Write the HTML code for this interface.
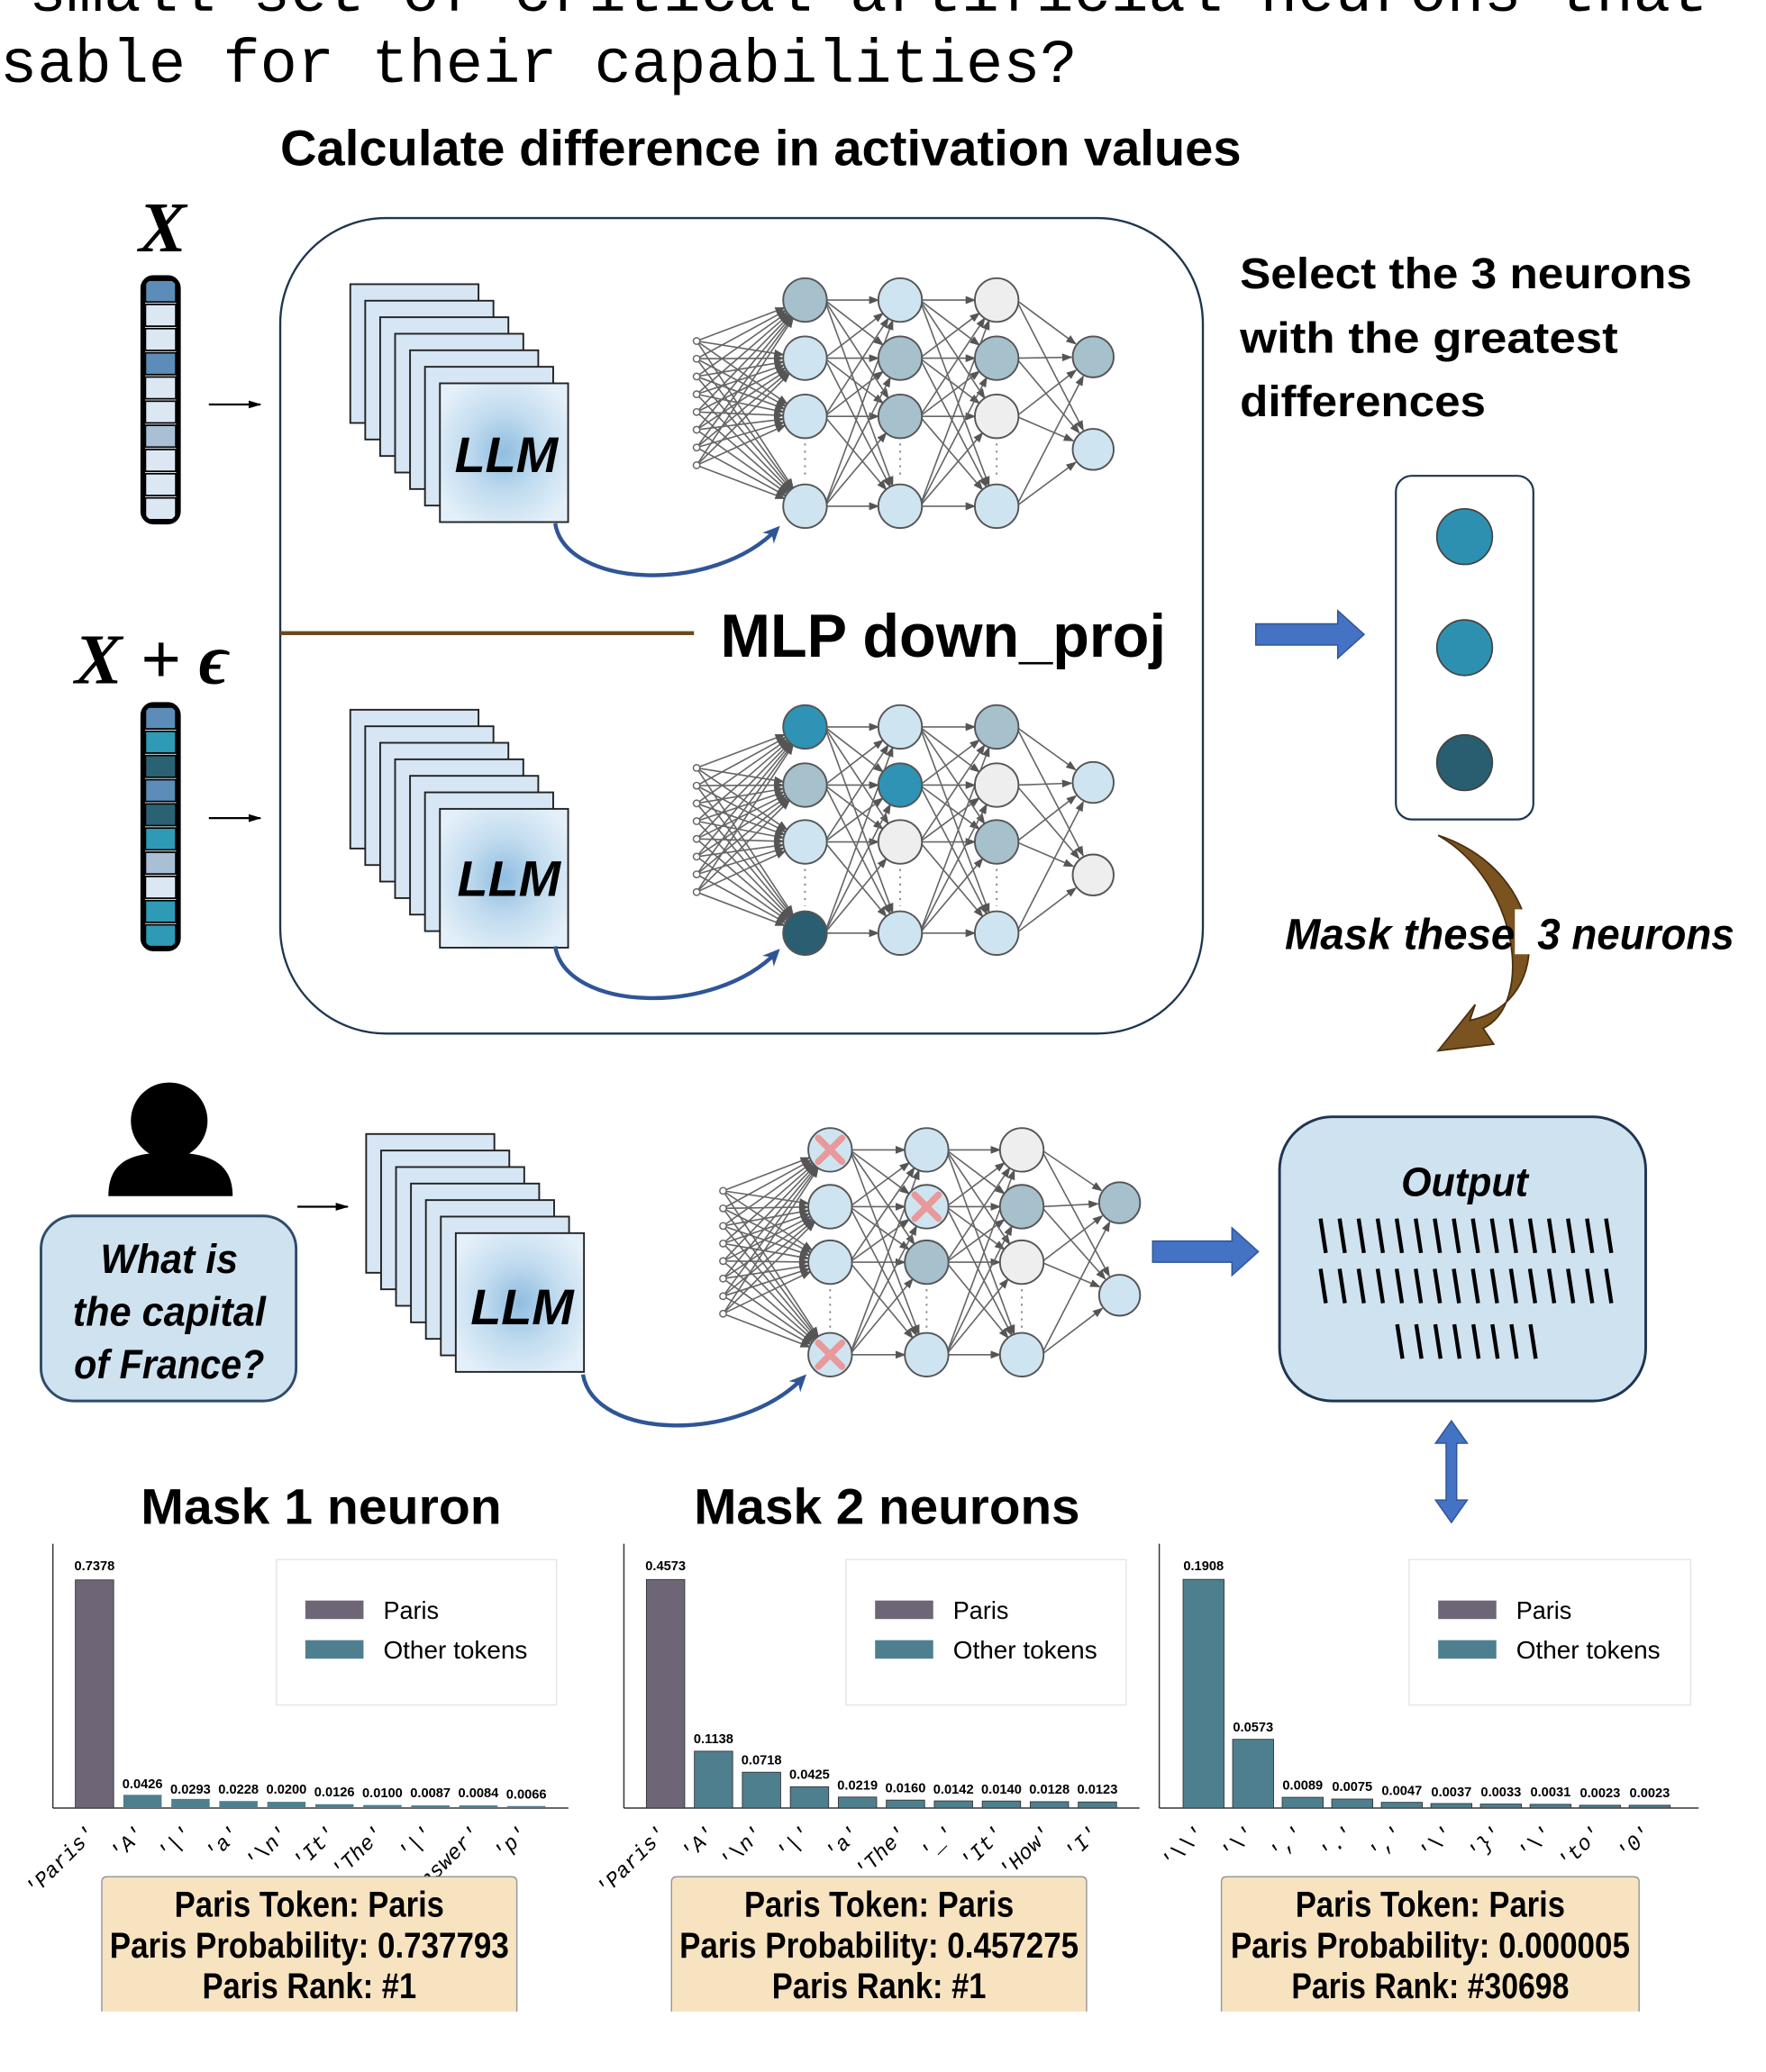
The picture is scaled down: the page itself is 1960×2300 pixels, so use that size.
<!DOCTYPE html>
<html><head><meta charset="utf-8"><style>html,body{margin:0;padding:0;background:#fff}svg{display:block}</style></head>
<body>
<svg id="s" xmlns="http://www.w3.org/2000/svg" width="1960" height="2300" viewBox="0 0 1336 1567.7" font-family="Liberation Sans, sans-serif">
<defs>
<marker id="ah" markerWidth="8" markerHeight="8" refX="7" refY="4" orient="auto" markerUnits="userSpaceOnUse"><path d="M0,1 L8,4 L0,7 Z" fill="#555"/></marker>
<marker id="bh" markerWidth="14" markerHeight="14" refX="10" refY="7" orient="auto" markerUnits="userSpaceOnUse"><path d="M0,1 L13,7 L0,13 L4,7 Z" fill="#2f5597"/></marker>
<marker id="kh" markerWidth="10" markerHeight="10" refX="9" refY="5" orient="auto" markerUnits="userSpaceOnUse"><path d="M0,2 L10,5 L0,8 Z" fill="#000"/></marker>
<radialGradient id="pg" cx="0.5" cy="0.5" r="0.6"><stop offset="0" stop-color="#8fbde0"/><stop offset="0.5" stop-color="#c2dcef"/><stop offset="1" stop-color="#e4f0f9"/></radialGradient>
</defs>

<text x="22" y="8" font-family="Liberation Mono, monospace" font-size="47" textLength="1270" lengthAdjust="spacingAndGlyphs">small set of critical artificial neurons that</text>
<text x="0" y="62" font-family="Liberation Mono, monospace" font-size="47" textLength="815" lengthAdjust="spacingAndGlyphs">sable for their capabilities?</text>

<text x="212" y="125" font-weight="bold" font-size="38" textLength="727" lengthAdjust="spacingAndGlyphs">Calculate difference in activation values</text>

<rect x="212" y="165" width="698" height="617" rx="80" fill="#fff" stroke="#1f3550" stroke-width="1.6"/>
<line x1="212" y1="479" x2="525" y2="479" stroke="#6b4a1e" stroke-width="3"/>
<text x="545" y="497" font-weight="bold" font-size="46" textLength="337" lengthAdjust="spacingAndGlyphs">MLP down_proj</text>

<text x="123" y="190" text-anchor="middle" font-family="Liberation Serif, serif" font-style="italic" font-weight="bold" font-size="54">X</text>
<text x="115" y="517" text-anchor="middle" font-family="Liberation Serif, serif" font-style="italic" font-weight="bold" font-size="54">X + ϵ</text>

<g id="vec1"></g><g id="vec2"></g>
<line x1="158" y1="306" x2="197" y2="306" stroke="#000" stroke-width="1.5" marker-end="url(#kh)"/>
<line x1="158" y1="619" x2="197" y2="619" stroke="#000" stroke-width="1.5" marker-end="url(#kh)"/>
<line x1="225" y1="913" x2="263" y2="913" stroke="#000" stroke-width="1.5" marker-end="url(#kh)"/>

<g id="stacks"></g>
<text x="383" y="357" text-anchor="middle" font-style="italic" font-weight="bold" font-size="38">LLM</text>
<text x="385" y="678" text-anchor="middle" font-style="italic" font-weight="bold" font-size="38">LLM</text>
<text x="395" y="1002" text-anchor="middle" font-style="italic" font-weight="bold" font-size="38">LLM</text>

<path d="M420,396 C428,445 540,450 588,400" fill="none" stroke="#2f5597" stroke-width="3" marker-end="url(#bh)"/>
<path d="M420,716 C428,765 540,770 588,720" fill="none" stroke="#2f5597" stroke-width="3" marker-end="url(#bh)"/>
<path d="M441,1040 C450,1090 560,1092 608,1042" fill="none" stroke="#2f5597" stroke-width="3" marker-end="url(#bh)"/>

<g id="nns"></g>

<text font-weight="bold" font-size="33" textLength="342" lengthAdjust="spacingAndGlyphs" x="938" y="218">Select the 3 neurons</text>
<text font-weight="bold" font-size="33" textLength="286" lengthAdjust="spacingAndGlyphs" x="938" y="267">with the greatest</text>
<text font-weight="bold" font-size="33" textLength="186" lengthAdjust="spacingAndGlyphs" x="938" y="315">differences</text>

<polygon points="950,472 1012,472 1012,462 1032,480 1012,498 1012,488 950,488" fill="#4472c4" stroke="#2f5597" stroke-width="1"/>
<rect x="1056" y="360" width="104" height="260" rx="12" fill="#fff" stroke="#1f3550" stroke-width="1.5"/>
<circle cx="1108" cy="406" r="21" fill="#2e90b0" stroke="#444" stroke-width="1.2"/>
<circle cx="1108" cy="490" r="21" fill="#2e90b0" stroke="#444" stroke-width="1.2"/>
<circle cx="1108" cy="577" r="21" fill="#285e70" stroke="#444" stroke-width="1.2"/>

<path d="M1088,632 C1172,660 1178,758 1112,772 L1116,760 L1088,795 L1130,790 L1122,778 C1160,760 1150,668 1088,632 Z" fill="#7a5320" stroke="#4a2f0f" stroke-width="1.2"/>
<rect x="1146" y="688" width="14" height="34" fill="#fff"/>
<text x="972" y="718" font-style="italic" font-weight="bold" font-size="33" textLength="174" lengthAdjust="spacingAndGlyphs">Mask these</text>
<text x="1163" y="718" font-style="italic" font-weight="bold" font-size="33" textLength="149" lengthAdjust="spacingAndGlyphs">3 neurons</text>

<circle cx="128" cy="848" r="29" fill="#000"/>
<path d="M82,905 C82,878 100,872 128,872 C156,872 176,878 176,905 Z" fill="#000"/>
<rect x="31" y="920" width="193" height="140" rx="25" fill="#cfe2f0" stroke="#2f4a6a" stroke-width="2"/>
<text x="128" y="963" text-anchor="middle" font-style="italic" font-weight="bold" font-size="31" textLength="104" lengthAdjust="spacingAndGlyphs">What is</text>
<text x="128" y="1003" text-anchor="middle" font-style="italic" font-weight="bold" font-size="31" textLength="146" lengthAdjust="spacingAndGlyphs">the capital</text>
<text x="128" y="1043" text-anchor="middle" font-style="italic" font-weight="bold" font-size="31" textLength="144" lengthAdjust="spacingAndGlyphs">of France?</text>

<polygon points="872,939 932,939 932,929 952,947 932,965 932,955 872,955" fill="#4472c4" stroke="#2f5597" stroke-width="1"/>
<rect x="968" y="845" width="277" height="215" rx="40" fill="#cfe2f0" stroke="#1f3550" stroke-width="2"/>
<text x="1108" y="905" text-anchor="middle" font-style="italic" font-weight="bold" font-size="31" textLength="96" lengthAdjust="spacingAndGlyphs">Output</text>
<g id="slashes" stroke="#000" stroke-width="3"></g>
<polygon points="1098,1075 1110,1092 1102,1092 1102,1135 1110,1135 1098,1152 1086,1135 1094,1135 1094,1092 1086,1092" fill="#4472c4" stroke="#2f5597" stroke-width="1"/>

<text x="243" y="1153" text-anchor="middle" font-weight="bold" font-size="38" textLength="273" lengthAdjust="spacingAndGlyphs">Mask 1 neuron</text>
<text x="671" y="1153" text-anchor="middle" font-weight="bold" font-size="38" textLength="292" lengthAdjust="spacingAndGlyphs">Mask 2 neurons</text>

<!-- Chart 1 -->
<g transform="translate(40,0)">
<line x1="0" y1="1168" x2="0" y2="1368" stroke="#333" stroke-width="1"/>
<line x1="0" y1="1368" x2="390" y2="1368" stroke="#333" stroke-width="1"/>
<g fill="#4e7f8f">
<rect x="17" y="1195.4" width="29" height="172.6" fill="#6e6676" stroke="#333" stroke-width=".6"/>
<rect x="53.3" y="1358" width="29" height="10"/><rect x="89.6" y="1361.1" width="29" height="6.9"/><rect x="125.9" y="1362.7" width="29" height="5.3"/><rect x="162.2" y="1363.3" width="29" height="4.7"/><rect x="198.5" y="1365.1" width="29" height="2.9"/><rect x="234.8" y="1365.7" width="29" height="2.3"/><rect x="271.1" y="1366" width="29" height="2"/><rect x="307.4" y="1366" width="29" height="2"/><rect x="343.7" y="1366.5" width="29" height="1.5"/>
</g>
<g font-size="10" font-weight="bold" text-anchor="middle">
<text x="31.5" y="1188">0.7378</text><text x="67.8" y="1353">0.0426</text><text x="104.1" y="1357">0.0293</text><text x="140.4" y="1357">0.0228</text><text x="176.7" y="1357">0.0200</text><text x="213" y="1359">0.0126</text><text x="249.3" y="1360">0.0100</text><text x="285.6" y="1360">0.0087</text><text x="321.9" y="1360">0.0084</text><text x="358.2" y="1361">0.0066</text>
</g>
<g font-family="Liberation Mono, monospace" font-style="italic" font-size="16" text-anchor="end">
<text transform="translate(33,1388) rotate(-45)">'Paris'</text><text transform="translate(70,1388) rotate(-45)">'A'</text><text transform="translate(106,1388) rotate(-45)">'|'</text><text transform="translate(142,1388) rotate(-45)">'a'</text><text transform="translate(179,1388) rotate(-45)">'\n'</text><text transform="translate(215,1388) rotate(-45)">'It'</text><text transform="translate(251,1388) rotate(-45)">'The'</text><text transform="translate(288,1388) rotate(-45)">'|'</text><text transform="translate(324,1388) rotate(-45)">'answer'</text><text transform="translate(360,1388) rotate(-45)">'p'</text>
</g>
<rect x="169" y="1180" width="212" height="110" fill="#fff" stroke="#e6e6e6"/>
<rect x="191" y="1211" width="44" height="14" fill="#6e6676"/><rect x="191" y="1241" width="44" height="14" fill="#4e7f8f"/>
<text x="250" y="1225" font-size="19" textLength="42" lengthAdjust="spacingAndGlyphs">Paris</text>
<text x="250" y="1255" font-size="19" textLength="109" lengthAdjust="spacingAndGlyphs">Other tokens</text>
</g>

<!-- Chart 2 -->
<g transform="translate(472,0)">
<line x1="0" y1="1168" x2="0" y2="1368" stroke="#333" stroke-width="1"/>
<line x1="0" y1="1368" x2="390" y2="1368" stroke="#333" stroke-width="1"/>
<g fill="#4e7f8f" stroke="#333" stroke-width=".6">
<rect x="17" y="1195.1" width="29" height="172.9" fill="#6e6676"/>
<rect x="53.3" y="1325" width="29" height="43"/><rect x="89.6" y="1340.9" width="29" height="27.1"/><rect x="125.9" y="1351.9" width="29" height="16.1"/><rect x="162.2" y="1359.7" width="29" height="8.3"/><rect x="198.5" y="1362" width="29" height="6"/><rect x="234.8" y="1362.6" width="29" height="5.4"/><rect x="271.1" y="1362.7" width="29" height="5.3"/><rect x="307.4" y="1363.2" width="29" height="4.8"/><rect x="343.7" y="1363.4" width="29" height="4.6"/>
</g>
<g font-size="10" font-weight="bold" text-anchor="middle">
<text x="31.5" y="1188">0.4573</text><text x="67.8" y="1319">0.1138</text><text x="104.1" y="1335">0.0718</text><text x="140.4" y="1346">0.0425</text><text x="176.7" y="1354">0.0219</text><text x="213" y="1356">0.0160</text><text x="249.3" y="1357">0.0142</text><text x="285.6" y="1357">0.0140</text><text x="321.9" y="1357">0.0128</text><text x="358.2" y="1357">0.0123</text>
</g>
<g font-family="Liberation Mono, monospace" font-style="italic" font-size="16" text-anchor="end">
<text transform="translate(33,1388) rotate(-45)">'Paris'</text><text transform="translate(70,1388) rotate(-45)">'A'</text><text transform="translate(106,1388) rotate(-45)">'\n'</text><text transform="translate(142,1388) rotate(-45)">'|'</text><text transform="translate(179,1388) rotate(-45)">'a'</text><text transform="translate(215,1388) rotate(-45)">'The'</text><text transform="translate(251,1388) rotate(-45)">'_'</text><text transform="translate(288,1388) rotate(-45)">'It'</text><text transform="translate(324,1388) rotate(-45)">'How'</text><text transform="translate(360,1388) rotate(-45)">'I'</text>
</g>
<rect x="168" y="1180" width="212" height="110" fill="#fff" stroke="#e6e6e6"/>
<rect x="190" y="1211" width="44" height="14" fill="#6e6676"/><rect x="190" y="1241" width="44" height="14" fill="#4e7f8f"/>
<text x="249" y="1225" font-size="19" textLength="42" lengthAdjust="spacingAndGlyphs">Paris</text>
<text x="249" y="1255" font-size="19" textLength="109" lengthAdjust="spacingAndGlyphs">Other tokens</text>
</g>

<!-- Chart 3 -->
<g transform="translate(877,0)">
<line x1="0" y1="1168" x2="0" y2="1368" stroke="#333" stroke-width="1"/>
<line x1="0" y1="1368" x2="408" y2="1368" stroke="#333" stroke-width="1"/>
<g fill="#4e7f8f" stroke="#333" stroke-width=".6">
<rect x="18" y="1195" width="31" height="173"/>
<rect x="55.5" y="1316" width="31" height="52"/><rect x="93" y="1359.9" width="31" height="8.1"/><rect x="130.5" y="1361.2" width="31" height="6.8"/><rect x="168" y="1363.7" width="31" height="4.3"/><rect x="205.5" y="1364.6" width="31" height="3.4"/><rect x="243" y="1365" width="31" height="3"/><rect x="280.5" y="1365.2" width="31" height="2.8"/><rect x="318" y="1365.9" width="31" height="2.1"/><rect x="355.5" y="1365.9" width="31" height="2.1"/>
</g>
<g font-size="10" font-weight="bold" text-anchor="middle">
<text x="33.5" y="1188">0.1908</text><text x="71" y="1310">0.0573</text><text x="108.5" y="1354">0.0089</text><text x="146" y="1355">0.0075</text><text x="183.5" y="1358">0.0047</text><text x="221" y="1359">0.0037</text><text x="258.5" y="1359">0.0033</text><text x="296" y="1359">0.0031</text><text x="333.5" y="1360">0.0023</text><text x="371" y="1360">0.0023</text>
</g>
<g font-family="Liberation Mono, monospace" font-style="italic" font-size="16" text-anchor="end">
<text transform="translate(35,1388) rotate(-45)">'\\'</text><text transform="translate(73,1388) rotate(-45)">'\'</text><text transform="translate(110,1388) rotate(-45)">','</text><text transform="translate(148,1388) rotate(-45)">'.'</text><text transform="translate(185,1388) rotate(-45)">','</text><text transform="translate(223,1388) rotate(-45)">'\'</text><text transform="translate(260,1388) rotate(-45)">'}'</text><text transform="translate(298,1388) rotate(-45)">'\'</text><text transform="translate(335,1388) rotate(-45)">'to'</text><text transform="translate(373,1388) rotate(-45)">'0'</text>
</g>
<rect x="189" y="1180" width="213" height="110" fill="#fff" stroke="#e6e6e6"/>
<rect x="211" y="1211" width="44" height="14" fill="#6e6676"/><rect x="211" y="1241" width="44" height="14" fill="#4e7f8f"/>
<text x="270" y="1225" font-size="19" textLength="42" lengthAdjust="spacingAndGlyphs">Paris</text>
<text x="270" y="1255" font-size="19" textLength="109" lengthAdjust="spacingAndGlyphs">Other tokens</text>
</g>

<!-- info boxes -->
<g font-weight="bold" font-size="27" text-anchor="middle">
<path d="M77,1522 L77,1424 Q77,1420 81,1420 L387,1420 Q391,1420 391,1424 L391,1522" fill="#f7e3c0" stroke="#999" stroke-width="1"/>
<text x="234" y="1450" textLength="204" lengthAdjust="spacingAndGlyphs">Paris Token:  Paris</text>
<text x="234" y="1481" textLength="302" lengthAdjust="spacingAndGlyphs">Paris Probability: 0.737793</text>
<text x="234" y="1512" textLength="162" lengthAdjust="spacingAndGlyphs">Paris Rank: #1</text>
<path d="M508,1522 L508,1424 Q508,1420 512,1420 L818,1420 Q822,1420 822,1424 L822,1522" fill="#f7e3c0" stroke="#999" stroke-width="1"/>
<text x="665" y="1450" textLength="204" lengthAdjust="spacingAndGlyphs">Paris Token:  Paris</text>
<text x="665" y="1481" textLength="302" lengthAdjust="spacingAndGlyphs">Paris Probability: 0.457275</text>
<text x="665" y="1512" textLength="162" lengthAdjust="spacingAndGlyphs">Paris Rank: #1</text>
<path d="M924,1522 L924,1424 Q924,1420 928,1420 L1236,1420 Q1240,1420 1240,1424 L1240,1522" fill="#f7e3c0" stroke="#999" stroke-width="1"/>
<text x="1082" y="1450" textLength="204" lengthAdjust="spacingAndGlyphs">Paris Token:  Paris</text>
<text x="1082" y="1481" textLength="302" lengthAdjust="spacingAndGlyphs">Paris Probability: 0.000005</text>
<text x="1082" y="1512" textLength="210" lengthAdjust="spacingAndGlyphs">Paris Rank: #30698</text>
</g>
</svg>
<script>
(function(){
var NS="http://www.w3.org/2000/svg";
function el(p,t,a){var e=document.createElementNS(NS,t);for(var k in a)e.setAttribute(k,a[k]);p.appendChild(e);return e;}
function vec(id,y0,cols){var g=document.getElementById(id);var h=(cols.length*18.5);
 cols.forEach(function(c,i){el(g,'rect',{x:110,y:y0+2+i*18.3,width:23,height:16.5,fill:c,stroke:'#000','stroke-width':1.2});});
 el(g,'rect',{x:108,y:y0,width:27,height:h,rx:8,fill:'none',stroke:'#000','stroke-width':3.5});}
var L='#dbe7f3',M='#5b8db8',S='#a9bfd6',T='#2e9ab5',D='#2a6273';
vec('vec1',210,[M,L,L,M,L,L,S,L,L,L]);
vec('vec2',533,[M,T,D,M,D,T,S,L,T,T]);
var st=document.getElementById('stacks');
function stack(x0,y0){for(var i=0;i<7;i++){var x=x0+i*11.3,y=y0+i*12.5;el(st,'rect',{x:x,y:y,width:97,height:105,fill:i==6?'url(#pg)':'#d6e6f4',stroke:'#222','stroke-width':1.3});}}
stack(265,215);stack(265,537);stack(277,858);
var g=document.getElementById('nns');
var C={l:'#cfe4f1',g:'#a6c0cc',w:'#eeeeee',t:'#2e93b5',d:'#2a5e70'};
function nn(xi,xs,ys,xo,yo,cols,outc,xm){
 var r=16.5;
 var dots=[];for(var i=0;i<8;i++)dots.push(ys[0]+31+i*(ys[3]-ys[0]-62)/7);
 function conn(x1,y1,x2,y2){var dx=x2-x1,dy=y2-y1,L=Math.sqrt(dx*dx+dy*dy);el(g,'line',{x1:x1,y1:y1,x2:x2-dx/L*r,y2:y2-dy/L*r,stroke:'#666','stroke-width':1.1,'marker-end':'url(#ah)'});}
 dots.forEach(function(d){ys.forEach(function(y){conn(xi,d,xs[0],y);});});
 for(var l=0;l<2;l++)ys.forEach(function(a){ys.forEach(function(b){conn(xs[l]+r*0.9,a,xs[l+1],b);});});
 ys.forEach(function(a){yo.forEach(function(b){conn(xs[2]+r*0.9,a,xo,b);});});
 dots.forEach(function(d){el(g,'circle',{cx:xi,cy:d,r:2.5,fill:'#fff',stroke:'#666','stroke-width':1});});
 xs.forEach(function(x,l){el(g,'line',{x1:x,y1:ys[2]+r+4,x2:x,y2:ys[3]-r-4,stroke:'#888','stroke-width':1.3,'stroke-dasharray':'1.5 4'});
  ys.forEach(function(y,k){el(g,'circle',{cx:x,cy:y,r:r,fill:C[cols[l][k]],stroke:'#555','stroke-width':1.3});
   if(xm&&xm[l]&&xm[l].indexOf(k)>=0){el(g,'path',{d:'M'+(x-9)+','+(y-9)+'L'+(x+9)+','+(y+9)+'M'+(x+9)+','+(y-9)+'L'+(x-9)+','+(y+9),stroke:'#e8999a','stroke-width':5,'stroke-linecap':'round'});}
  });});
 yo.forEach(function(y,k){el(g,'circle',{cx:xo,cy:y,r:r-1,fill:C[outc[k]],stroke:'#555','stroke-width':1.3});});
}
nn(527,[609,681,754],[227,271,315,383],827,[270,340],[['g','l','l','l'],['l','g','g','l'],['w','g','w','l']],['g','l']);
nn(527,[609,681,754],[550,594,637,706],827,[592,662],[['t','g','l','d'],['l','t','w','l'],['g','w','g','l']],['l','w']);
nn(547,[628,701,773],[870,913,955,1025],847,[910,980],[['l','l','l','l'],['l','l','g','l'],['w','g','w','l']],['g','l'],[[0,3],[1],[]]);
var sg=document.getElementById('slashes');
function row(x0,n,y){for(var i=0;i<n;i++){var x=x0+i*14.4;el(sg,'line',{x1:x,y1:y-13,x2:x+4,y2:y+13});}}
row(999,16,935);row(999,16,973);row(1057,8,1015);
})();
</script>
</body></html>
